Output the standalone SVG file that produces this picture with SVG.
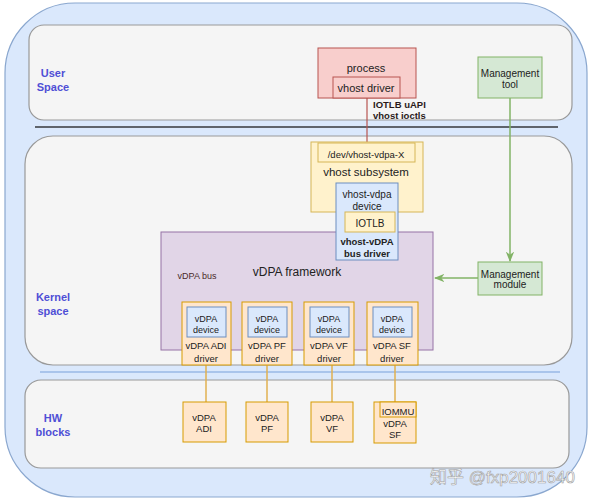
<svg xmlns="http://www.w3.org/2000/svg" width="592" height="502" viewBox="0 0 592 502">
<style>
text{font-family:"Liberation Sans",Arial,sans-serif;text-anchor:middle;fill:#222}
.panel{fill:#f5f5f5;stroke:#999;stroke-width:1.2}
.lbl{fill:#4f4fd6;font-weight:bold;font-size:11px}
.red{fill:#f8cecc;stroke:#b85450;stroke-width:1}
.grn{fill:#d5e8d4;stroke:#82b366;stroke-width:1}
.yel{fill:#fff2cc;stroke:#d6b656;stroke-width:1}
.blu{fill:#dae8fc;stroke:#6c8ebf;stroke-width:1}
.pur{fill:#e1d5e7;stroke:#9673a6;stroke-width:1}
.org{fill:#ffe6cc;stroke:#d79b00;stroke-width:1}
.t9{font-size:9px}
.t95{font-size:9.5px}
.t10{font-size:10px}
.t11{font-size:11px}
.b95{font-size:9.5px;font-weight:bold}
</style>
<defs>
<marker id="ag" viewBox="0 0 10 10" refX="9" refY="5" markerWidth="7" markerHeight="7" orient="auto"><path d="M0,1 L10,5 L0,9 L3,5 Z" fill="#82b366"/></marker>
</defs>
<rect x="5" y="3" width="582" height="494" rx="70" fill="#dae8fc" stroke="#8aa7cf" stroke-width="1.2"/>
<g id="user-space"><rect class="panel" x="29" y="25" width="543" height="95" rx="15"/><text class="lbl" x="53" y="77">User</text><text class="lbl" x="53" y="91">Space</text></g>
<line x1="35" y1="127" x2="558" y2="127" stroke="#36393d" stroke-width="1.5"/>
<g id="kernel-space"><rect class="panel" x="25" y="136" width="547" height="229" rx="28"/><text class="lbl" x="53" y="301">Kernel</text><text class="lbl" x="53" y="315">space</text></g>
<line x1="40" y1="372" x2="560" y2="372" stroke="#a9c4eb" stroke-width="2"/>
<g id="hw-blocks"><rect class="panel" x="25" y="380" width="544" height="88" rx="16"/><text class="lbl" x="53" y="422">HW</text><text class="lbl" x="53" y="436">blocks</text></g>
<g id="connectors" fill="none">
<line x1="367" y1="98" x2="367" y2="143" stroke="#b85450" stroke-width="1.2"/>
<line x1="510" y1="98" x2="510" y2="261" stroke="#82b366" stroke-width="1.5" marker-end="url(#ag)"/>
<line x1="478" y1="278" x2="435" y2="278" stroke="#82b366" stroke-width="1.5" marker-end="url(#ag)"/>
<line x1="367" y1="260" x2="367" y2="288" stroke="#6c8ebf" stroke-width="1.5"/>
<line x1="173" y1="288" x2="424" y2="288" stroke="#6c8ebf" stroke-width="2"/>
<g stroke="#6c8ebf" stroke-width="1.5"><line x1="207" y1="288" x2="207" y2="307"/><line x1="275" y1="288" x2="275" y2="307"/><line x1="326" y1="288" x2="326" y2="307"/><line x1="393" y1="288" x2="393" y2="307"/></g>
<g stroke="#e0b050" stroke-width="1.5"><line x1="206" y1="365" x2="206" y2="402"/><line x1="267" y1="365" x2="267" y2="402"/><line x1="332" y1="365" x2="332" y2="402"/><line x1="395" y1="365" x2="395" y2="402"/></g>
</g>
<g id="process"><rect class="red" x="318" y="48" width="98" height="50"/><text class="t11" x="366" y="72">process</text></g>
<g id="vhost-driver"><rect class="red" x="333" y="77" width="67" height="21"/><text class="t11" x="366" y="92">vhost driver</text></g>
<text class="b95" style="text-anchor:start;fill:#2a1a1a"><tspan x="373" y="108">IOTLB uAPI</tspan><tspan x="373" y="119">vhost ioctls</tspan></text>
<g id="management-tool"><rect class="grn" x="478" y="57" width="64" height="41"/><text class="t10" x="510" y="77">Management</text><text class="t10" x="510" y="88">tool</text></g>
<g id="vhost-subsystem"><rect class="yel" x="311" y="142" width="112" height="70"/><rect class="yel" x="318" y="143" width="97" height="19"/><text class="t95" x="366" y="158">/dev/vhost-vdpa-X</text><text x="366" y="176" style="font-size:11.5px">vhost subsystem</text></g>
<g id="vdpa-framework"><rect class="pur" x="161" y="232" width="272" height="118"/><text x="297" y="276" style="font-size:12px">vDPA framework</text><text class="t9" x="197" y="279" style="fill:#4a2a2a">vDPA bus</text></g>
<g id="vhost-vdpa-device"><rect class="blu" x="336" y="183" width="62" height="77"/><text class="t10" x="367" y="198">vhost-vdpa</text><text class="t10" x="367" y="210">device</text><rect class="yel" x="345" y="212" width="50" height="20"/><text class="t10" x="370" y="227">IOTLB</text><text class="b95" x="367" y="245">vhost-vDPA</text><text class="b95" x="367" y="257">bus driver</text></g>
<g id="management-module"><rect class="grn" x="478" y="262" width="64" height="33"/><text class="t10" x="510" y="278">Management</text><text class="t10" x="510" y="288">module</text></g>
<g id="drv-adi"><rect class="org" x="182" y="302" width="49" height="63"/><rect class="blu" x="187" y="307" width="39" height="30"/><text class="t9" x="206" y="322">vDPA</text><text class="t9" x="206" y="333">device</text><text class="t95" x="206" y="349">vDPA ADI</text><text class="t95" x="206" y="362">driver</text></g>
<g id="drv-pf"><rect class="org" x="242" y="302" width="50" height="63"/><rect class="blu" x="248" y="307" width="39" height="30"/><text class="t9" x="267" y="322">vDPA</text><text class="t9" x="267" y="333">device</text><text class="t95" x="267" y="349">vDPA PF</text><text class="t95" x="267" y="362">driver</text></g>
<g id="drv-vf"><rect class="org" x="304" y="302" width="50" height="63"/><rect class="blu" x="310" y="307" width="39" height="30"/><text class="t9" x="329" y="322">vDPA</text><text class="t9" x="329" y="333">device</text><text class="t95" x="329" y="349">vDPA VF</text><text class="t95" x="329" y="362">driver</text></g>
<g id="drv-sf"><rect class="org" x="367" y="302" width="51" height="63"/><rect class="blu" x="373" y="307" width="39" height="30"/><text class="t9" x="392" y="322">vDPA</text><text class="t9" x="392" y="333">device</text><text class="t95" x="392" y="349">vDPA SF</text><text class="t95" x="392" y="362">driver</text></g>
<g id="hw-adi"><rect class="org" x="183" y="402" width="43" height="40"/><text class="t95" x="204" y="421">vDPA</text><text class="t95" x="204" y="432">ADI</text></g>
<g id="hw-pf"><rect class="org" x="246" y="402" width="42" height="40"/><text class="t95" x="267" y="421">vDPA</text><text class="t95" x="267" y="432">PF</text></g>
<g id="hw-vf"><rect class="org" x="311" y="402" width="42" height="40"/><text class="t95" x="332" y="421">vDPA</text><text class="t95" x="332" y="432">VF</text></g>
<g id="hw-sf"><rect class="org" x="374" y="402" width="42" height="41"/><rect class="org" x="380" y="402" width="36" height="15"/><text class="t95" x="398" y="415">IOMMU</text><text class="t95" x="395" y="427">vDPA</text><text class="t95" x="395" y="438">SF</text></g>
<text x="430" y="483" style="text-anchor:start;font-size:17px;fill:#fff;stroke:#a0a0a0;stroke-width:0.6;font-family:'Liberation Sans','Noto Sans CJK SC',sans-serif">知乎 @fxp2001640</text>
</svg>
